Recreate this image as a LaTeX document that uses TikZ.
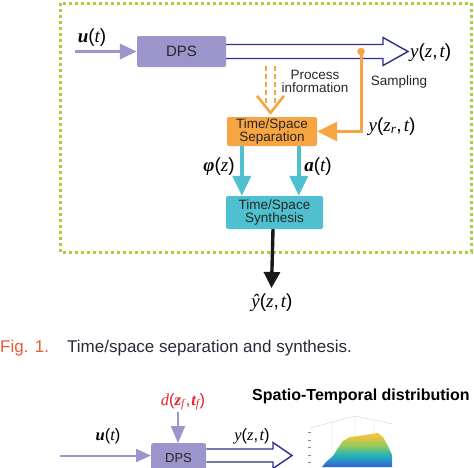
\documentclass[tikz,border=0pt]{standalone}
\usepackage{xcolor}
\usepackage{tikz, tkz-euclide}
\usetikzlibrary{calc, arrows.meta}
\usepackage{fontspec}
\setmainfont{Liberation Sans}
\newfontfamily\mathserif{Liberation Serif}

\definecolor{dpsviolet}{HTML}{9C95CB}
\definecolor{hollownavy}{HTML}{2B2F8E}
\definecolor{sepora}{HTML}{F7A543}
\definecolor{syncyan}{HTML}{4EC0CF}
\definecolor{framegreen}{HTML}{A8CF3C}
\definecolor{figred}{HTML}{E8593B}
\definecolor{distred}{HTML}{E3232C}
\definecolor{captext}{HTML}{2A2A38}
\definecolor{parY}{HTML}{F2C53A}
\definecolor{parG}{HTML}{93CA5E}
\definecolor{parT}{HTML}{22B4B5}
\definecolor{parC}{HTML}{2F74D6}
\definecolor{parB}{HTML}{3A2C9E}
\pgfdeclareverticalshading{parula}{100bp}{color(0bp)=(parB); color(18bp)=(parB);
  color(30bp)=(parC); color(43bp)=(parT); color(56bp)=(parG); color(70bp)=(parY); color(100bp)=(parY)}

\newcommand{\mv}[1]{{\mathserif\itshape #1}}
\newcommand{\bv}[1]{{\mathserif\bfseries\itshape #1}}
\newcommand{\sub}[1]{\textsubscript{\mv{#1}}}

\begin{document}
\begin{tikzpicture}[x=1pt, y=-1pt,
    blk/.style={rounded corners=2pt, inner sep=0pt, align=center, text=black!85},
    mlabel/.style={inner sep=0pt, font=\fontsize{19}{19}\selectfont},
    smlabel/.style={inner sep=0pt, font=\fontsize{16.5}{16.5}\selectfont},
    txt/.style={inner sep=0pt, align=center, text=black!85, font=\fontsize{13.5}{13}\selectfont},
    violetarrow/.style={dpsviolet, line width=3.5pt, -{Triangle[length=17pt, width=15pt]}},
    hollowline/.style={hollownavy, line width=1.4pt, line join=miter},
    orangearrow/.style={sepora, line width=3pt, -{Triangle[length=20pt, width=19pt]}},
    cyanarrow/.style={syncyan, line width=4pt, -{Triangle[length=20pt, width=18pt]}},
    blackarrow/.style={black!90, line width=3.4pt, -{Triangle[length=16pt, width=16pt]}},
    greenframe/.style={framegreen, line width=3pt, dash pattern=on 3pt off 3pt}]
      \useasboundingbox (0,0) rectangle (474,467);
      \clip (0,0) rectangle (474,467);

      \tkzDefPoints{75/51.5/uin, 408/51.5/tip, 361/51.5/smp}%
      \tkzDefPoints{60/455.5/uin2, 178/412/dtop, 292/455.5/tip2}%

      % dotted frame
      \draw[greenframe] (60,3) rectangle (471,252);

      % blocks
      \node[blk, fill=dpsviolet, minimum width=89pt, minimum height=31pt,
            font=\fontsize{15}{15}\selectfont] (dps) at (181.5,51.5) {DPS};
      \node[blk, fill=sepora, minimum width=90pt, minimum height=29pt,
            font=\fontsize{13.5}{13}\selectfont] (sep) at (272,131.5) {Time/Space\\Separation};
      \node[blk, fill=syncyan, minimum width=97pt, minimum height=33pt,
            font=\fontsize{13.5}{13}\selectfont] (syn) at (274.5,212.5) {Time/Space\\Synthesis};

      \node[mlabel, anchor=base] (ulbl) at (92,42) {\bv{u}(\mv{t})};
      \node[mlabel, anchor=base west] (ylbl) at (410,57) {\mv{y}(\mv{z},\kern2pt\mv{t})};
      \node[mlabel, anchor=base] (yrlbl) at (392,131) {\mv{y}(\mv{z}\sub{r},\kern2pt\mv{t})};
      \node[mlabel, anchor=base] (philbl) at (219,171) {\bv{φ}(\mv{z})};
      \node[mlabel, anchor=base] (albl) at (318,171) {\bv{a}(\mv{t})};
      \node[mlabel, anchor=base] (yhat) at (272,307) {\mv{ŷ}(\mv{z},\kern2pt\mv{t})};
      \node[txt, anchor=base] (proc) at (315,92) {Process\\information};
      \node[txt, anchor=base] (samp) at (399,85) {Sampling};

      % connectors
      \draw[violetarrow] (uin) -- (dps.west);
      \draw[hollowline] ($(dps.east)+(0,-7)$) -- ($(tip)+(-25,-7)$) -- ($(tip)+(-25,-14)$)
            -- (tip) -- ($(tip)+(-25,14)$) -- ($(tip)+(-25,7)$) -- ($(dps.east)+(0,7)$);
      \draw[orangearrow] (smp) |- (sep.east);
      \fill[sepora] (smp) circle (3.8);
      \draw[sepora, line width=2.5pt, dash pattern=on 5pt off 3pt]
            ($(sep.north)+(-6,-51)$) -- ($(sep.north)+(-6,-14)$)
            ($(sep.north)+(3,-51)$) -- ($(sep.north)+(3,-14)$);
      \draw[sepora, line width=2.6pt, line join=miter]
            ($(sep.north)+(-15,-21)$) -- ($(sep.north)+(-1.5,-4)$) -- ($(sep.north)+(12,-21)$);
      \coordinate (phiout) at ($(sep.south west)+(15,0)$);
      \coordinate (aout) at ($(sep.south west)+(72,0)$);
      \draw[cyanarrow] (phiout) -- (phiout |- syn.north);
      \draw[cyanarrow] (aout) -- (aout |- syn.north);
      \draw[blackarrow] ($(syn.south)+(-1.5,0)$) -- ($(yhat.north)+(-0.5,-5)$);

      % caption
      \node[inner sep=0pt, anchor=base west, text=figred, font=\fontsize{17}{17}\selectfont]
            (figno) at (0,352) {Fig. 1.};
      \node[inner sep=0pt, anchor=base west, text=captext, font=\fontsize{17}{17}\selectfont]
            (cap) at (67,352) {Time/space separation and synthesis.};

      % next figure
      \node[inner sep=0pt, anchor=base west, font=\bfseries\fontsize{16}{16}\selectfont]
            (sttitle) at (252,400) {Spatio-Temporal distribution};
      \node[blk, fill=dpsviolet, minimum width=55pt, minimum height=38pt, anchor=north west] (dps2) at (151,443) {};
      \node[inner sep=0pt, anchor=base, text=black!85, font=\fontsize{13}{13}\selectfont]
            (dpstxt) at (178.5,462) {DPS};
      \node[smlabel, anchor=base, text=distred] (dlbl) at (183,405)
            {\mv{d}(\bv{z}\sub{f}\kern1pt,\kern1pt\bv{t}\sub{f})};
      \node[smlabel, anchor=base] (ulbl2) at (108,440) {\bv{u}(\mv{t})};
      \node[smlabel, anchor=base] (ylbl2) at (252,440) {\mv{y}(\mv{z},\kern1.5pt\mv{t})};
      \draw[dpsviolet, line width=2pt, -{Triangle[length=15pt, width=13pt]}] (uin2) -- (uin2 -| dps2.west);
      \draw[dpsviolet, line width=2pt, -{Triangle[length=17pt, width=14pt]}] (dtop) -- (dtop |- dps2.north);
      \draw[hollowline] ($(dps2.north east)+(0,6)$) -- ($(tip2)+(-19,-6.5)$) -- ($(tip2)+(-19,-13)$)
            -- (tip2) -- ($(tip2)+(-19,13)$) -- ($(tip2)+(-19,6.5)$) -- ($(dps2.north east)+(0,19)$);

      % surface plot
      \draw[black!18, line width=0.4pt] (310,428) -- (355,416) -- (393,424)
            (355,416) -- (355,446) (310,428) -- (310,467) (332,422) -- (332,452)
            (374,420) -- (374,436);
      \foreach \yy in {432,440,447,455,462}
        \draw[black!45, line width=0.5pt] (308,\yy) -- (311,\yy);
      \begin{scope}
        \clip (322,467) -- (326,462) -- (333,456) -- (338,448) -- (343,441) -- (350,437)
              -- (365,435) -- (378,433) -- (383,437) -- (388,446) -- (392,455) -- (392,467) -- cycle;
        \shade[shading=parula] (320,432) rectangle (394,468);
      \end{scope}
    \end{tikzpicture}
\end{document}
